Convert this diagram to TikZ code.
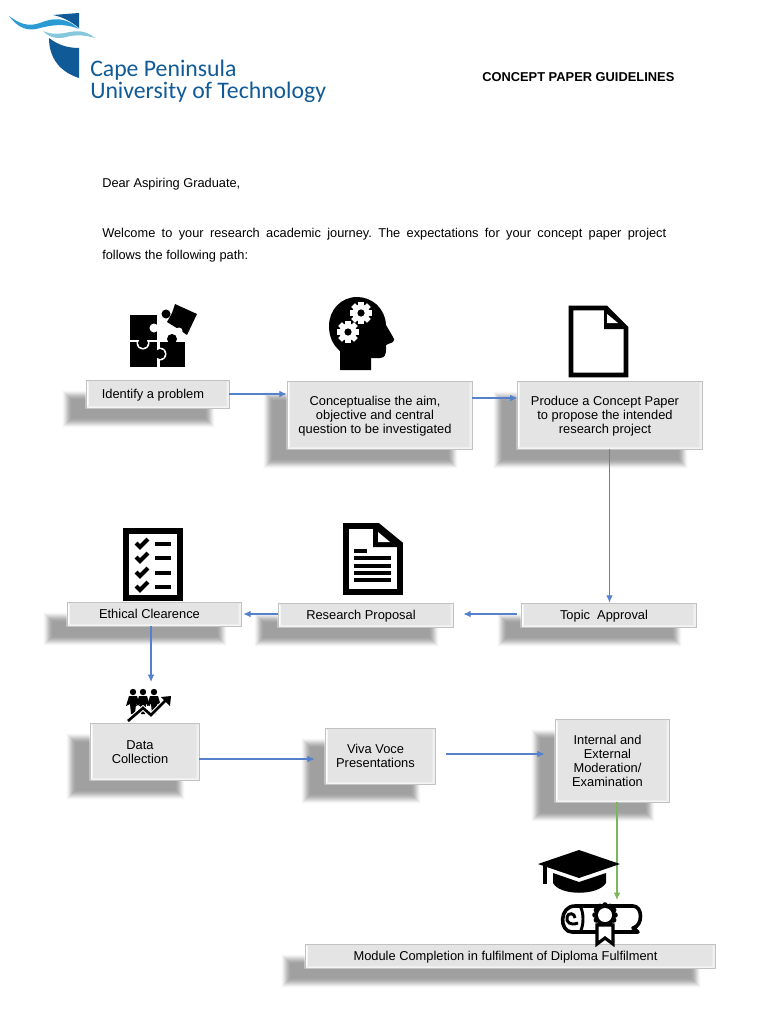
\documentclass[tikz,border=0pt]{standalone}
\usepackage{fontspec}
\setmainfont{Liberation Sans}
\newfontfamily\logofont{Carlito}
\usetikzlibrary{positioning,calc,backgrounds,arrows.meta}
\definecolor{boxgray}{HTML}{E4E4E4}
\definecolor{boxline}{HTML}{C2C2C2}
\definecolor{linkblue}{HTML}{5480CC}
\definecolor{linkgreen}{HTML}{7DB65A}
\definecolor{logodark}{HTML}{0F5A97}
\definecolor{logomid}{HTML}{2A9BD3}
\definecolor{logolight}{HTML}{86C7DB}
\tikzstyle{block} = [align=center, draw=boxline, line width=0.6pt, rectangle, inner sep=0pt, font=\fontsize{9.65}{10.5}\selectfont]
\tikzstyle{pagetext} = [anchor=west, inner sep=0pt, font=\fontsize{9.6}{16.2}\selectfont]
\tikzstyle{link} = [->, linkblue, line width=0.8pt]
\tikzstyle{icon} = [line width=3.6pt, line join=miter]
\tikzstyle{logotext} = [anchor=base west, inner sep=0pt, text=logodark, font=\logofont\fontsize{17.8}{18}\selectfont]
% The text of the blocks sits a little left of their middle
\newcommand{\boxtext}[1]{\raisebox{-1.5pt}[\height][\depth]{\begin{tabular}{@{}c@{\hspace{6.75pt}}}#1\end{tabular}}}
\newcommand{\gearicon}[2]{%
  \foreach \a in {0,45,...,315} {
    \fill[white, rotate around={\a:(#1,#2)}] (#1-2.6,#2-11) rectangle (#1+2.6,#2+11);
  }
  \fill[white] (#1,#2) circle (8.5);
  \fill[black] (#1,#2) circle (3.6);
}
\frenchspacing
\begin{document}
\begin{tikzpicture}[x=0.75pt,y=-0.75pt,>={Latex[length=5.5pt,width=5pt]}]
  \useasboundingbox (0,0) rectangle (768,1024);
  %
  % We start by placing the blocks
  \node [block, minimum width=107.25pt, minimum height=21pt] (identify) at (157.5,394) {\boxtext{Identify a problem}};
  \node [block, minimum width=138.75pt, minimum height=51pt] (concept) at (379.5,415) {\boxtext{Conceptualise the aim,\\objective and central\\question to be investigated}};
  \node [block, minimum width=138.75pt, minimum height=51pt] (produce) at (609.5,415) {\boxtext{Produce a Concept Paper\\to propose the intended\\research project}};
  \node [block, minimum width=131.25pt, minimum height=18pt] (topic) at (608.5,615) {\boxtext{Topic \ Approval}};
  \node [block, minimum width=131.25pt, minimum height=18pt] (proposal) at (365.5,615) {\boxtext{Research Proposal}};
  \node [block, minimum width=130.5pt, minimum height=18pt] (ethical) at (154,614) {\boxtext{Ethical Clearence}};
  \node [block, minimum width=81.75pt, minimum height=42.75pt] (data) at (144.5,751.5) {\boxtext{Data\\Collection}};
  \node [block, minimum width=82.5pt, minimum height=42pt] (viva) at (380,756) {\boxtext{Viva Voce\\Presentations}};
  \node [block, minimum width=85.5pt, minimum height=62.25pt] (internal) at (612,760.5) {\boxtext{Internal and\\External\\Moderation/\\Examination}};
  \node [block, minimum width=307.5pt, minimum height=18pt] (module) at (510,956) {\boxtext{Module Completion in fulfilment of Diploma Fulfilment}};
  %
  % The shadows and the bevels go behind the text of the blocks
  \begin{scope}[on background layer]
    \foreach \n in {identify,concept,produce,topic,proposal,ethical,data,viva,internal,module} {
      \foreach \i [evaluate=\i as \o using {0.012+0.05*sin(18*\i)}] in {0,...,10} {
        \fill [black, opacity=\o] ($(\n.south west)+(-24+\i,20-\i)$) rectangle ($(\n.north east)+(-14-\i,10+\i)$);
      }
    }
    \foreach \n in {identify,concept,produce,topic,proposal,ethical,data,viva,internal,module} {
      \fill [boxgray] (\n.south west) rectangle (\n.north east);
      \fill [white] (\n.south west) -- (\n.north west) -- ($(\n.north west)+(3,3)$) -- ($(\n.south west)+(3,-3)$) -- cycle;
      \fill [white!60!boxgray] (\n.south west) -- (\n.south east) -- ($(\n.south east)+(-3,-2)$) -- ($(\n.south west)+(3,-2)$) -- cycle;
      \fill [white!45!boxgray] (\n.south east) -- (\n.north east) -- ($(\n.north east)+(-3,3)$) -- ($(\n.south east)+(-3,-2)$) -- cycle;
    }
  \end{scope}
  %
  % Free ends of the arrows that stop above an icon
  \coordinate (peopletop) at (151,682);
  \coordinate (diplomatop) at (617,900);
  %
  % Once the nodes are placed, connecting them is easy.
  \draw [link] (identify.east) -- (identify.east -| concept.west);
  \draw [link] ($(concept.east)+(0,-17)$) -- ($(concept.east)+(45,-17)$);
  \draw [link] (produce.south) -- (produce.south |- topic.north);
  \draw [link, shorten <=3pt, shorten >=7.5pt] ($(topic.west)+(0,-1)$) -- ($(proposal.east)+(0,-1)$);
  \draw [link, shorten >=1.5pt] ($(proposal.west)+(0,-1)$) -- (ethical.east);
  \draw [link] (peopletop |- ethical.south) -- (peopletop);
  \draw [link, shorten >=7.5pt] ($(data.east)+(0,7.5)$) -- ($(data.east -| viva.west)+(0,7.5)$);
  \draw [link, shorten <=8pt, shorten >=7.5pt] ($(viva.east)+(0,-2)$) -- ($(viva.east -| internal.west)+(0,-2)$);
  \draw [->, linkgreen, line width=0.8pt] (diplomatop |- internal.south) -- (diplomatop);
  %
  % The header and the letter
  \node [anchor=west, inner sep=0pt, font=\fontsize{9.65}{12}\bfseries\selectfont] (title) at (482,77.5) {CONCEPT PAPER GUIDELINES};
  \node [pagetext] (dear) at (102,184.5) {Dear Aspiring Graduate,};
  \node [pagetext, anchor=north west, text width=423pt, align=justify] (welcome) at (102,228) {Welcome to your research academic journey. The expectations for your concept paper project\linebreak follows the following path:};
  %
  % The logo
  \fill [logodark] (53,15) -- (79,13) -- (79,28) .. controls (72,22) and (63,17) .. (53,15) -- cycle;
  \fill [logodark] (49,38) .. controls (58,45) and (68,48) .. (79,48) -- (79,78) .. controls (60,72) and (49,58) .. (49,38) -- cycle;
  \fill [logomid] (9,16) .. controls (20,24) and (28,27) .. (40,23) .. controls (52,18) and (65,16) .. (79,29) .. controls (65,23) and (52,25) .. (40,28) .. controls (28,32) and (18,28) .. (9,16) -- cycle;
  \fill [logolight] (43,31) .. controls (52,35) and (60,34) .. (70,32) .. controls (80,30) and (88,32) .. (95,38) .. controls (85,35) and (78,35) .. (70,36) .. controls (58,40) and (50,38) .. (43,31) -- cycle;
  \node [logotext] (logotop) at (90,77) {Cape Peninsula};
  \node [logotext] (logobottom) at (90,98.5) {University of Technology};
  %
  % The puzzle
  \fill (160,342) rectangle (185,367);
  \fill (172,339) circle (5);
  \fill [white] (160,354) circle (6.5);
  \fill (130,342) rectangle (157,367);
  \fill [white] (143,343) circle (6.5);
  \fill (130,315) rectangle (157,340);
  \fill (143,343) circle (5);
  \fill (160,354) circle (5);
  \fill [white] (154,328) circle (4.5);
  \fill (175,304) -- (197,314) -- (187,335) -- (180,330) -- (167,322) -- (172,313) -- cycle;
  \fill (166,314) circle (4.5);
  \fill [white] (179,331) circle (3.5);
  %
  % The head with the gears
  \fill (340,370) -- (371,370) -- (371,358) -- (380,358) .. controls (385,358) and (386,354) .. (386,349) -- (386,345) -- (393,342) .. controls (395,340) and (394,339) .. (393,337) -- (386,325) .. controls (385,308) and (372,297) .. (357,297) .. controls (341,297) and (329,310) .. (329,326) .. controls (329,337) and (333,345) .. (340,351) -- cycle;
  \gearicon{361}{313}
  \gearicon{348}{332}
  %
  % The blank paper
  \draw [icon] (571,308) -- (606,308) -- (626,328) -- (626,375) -- (571,375) -- cycle;
  \fill (604,306) -- (606,306) -- (628,329) -- (604,329) -- cycle;
  \fill [white] (607,314) -- (607,323) -- (618,323) -- cycle;
  %
  % The checklist
  \draw [icon, line width=4.2pt] (126,531) rectangle (180,598);
  \foreach \y in {543,557,572,586} {
    \draw [line width=3pt] (136,\y) -- (140,\y+4) -- (148,\y-4);
    \draw [line width=2.8pt] (155,\y+1) -- (171,\y+1);
  }
  %
  % The proposal
  \draw [icon, line width=4.2pt] (346,526) -- (378,526) -- (400,544) -- (400,592) -- (346,592) -- cycle;
  \fill (373,524) -- (379,524) -- (402,543) -- (402,547) -- (373,547) -- cycle;
  \fill [white] (378,532) -- (378,542) -- (390,542) -- cycle;
  \draw [line width=2.4pt] (354,551) -- (367,551);
  \foreach \y in {558,566,573,580} {
    \draw [line width=2.4pt] (354,\y) -- (391,\y);
  }
  %
  % The people and the rising arrow
  \foreach \x in {133,143,154} {
    \fill (\x,692) circle (3.2);
    \fill (\x-7,706) -- (\x-4,696) -- (\x+4,696) -- (\x+7,706) -- (\x+3,704) -- (\x+2,714) -- (\x-2,714) -- (\x-3,704) -- cycle;
  }
  \draw [white, line width=3.6pt] (128,721) -- (143,708) -- (151,715) -- (168,698);
  \draw [line width=2pt] (128,721) -- (143,708) -- (151,715) -- (167,699);
  \fill (171,696) -- (170,706) -- (161,697) -- cycle;
  %
  % The cap
  \fill (538,864) -- (579,850) -- (620,864) -- (579,878) -- cycle;
  \fill (553,873) -- (579,882) -- (606,873) -- (606,883) .. controls (598,896) and (560,896) .. (553,883) -- cycle;
  \draw [line width=2.4pt] (545,866) -- (545,884);
  %
  % The diploma
  \draw [line width=2.7pt, line join=round] (575,906) -- (633,906) .. controls (643,906) and (643,926) .. (633,928) -- (638,932) -- (572,932) .. controls (559,932) and (559,906) .. (575,906) -- cycle;
  \draw [line width=2.2pt] (578,923) .. controls (570,926) and (566,922) .. (567,917) .. controls (568,912) and (575,913) .. (575,918);
  \draw [line width=2.2pt] (580,906) .. controls (584,912) and (584,926) .. (580,932);
  \foreach \a in {0,30,...,330} {
    \fill ($(605,915)+(\a:10)$) circle (2.8);
  }
  \fill [white, draw=black, line width=2.4pt] (597,925) -- (597,944) -- (605,938) -- (613,944) -- (613,925) -- cycle;
  \fill (605,915) circle (10.5);
  \fill [white] (605,915) circle (7);
  %
\end{tikzpicture}
\end{document}
